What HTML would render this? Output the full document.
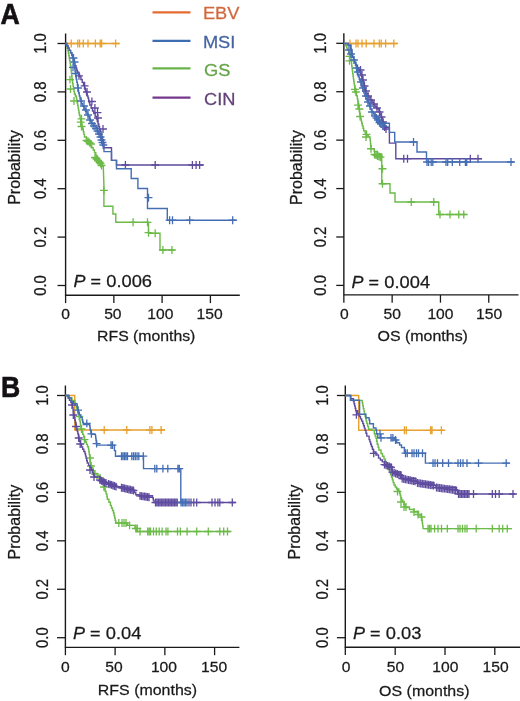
<!DOCTYPE html>
<html><head><meta charset="utf-8"><title>Kaplan-Meier curves</title>
<style>html,body{margin:0;padding:0;background:#fff;}svg{display:block;filter:blur(0.4px);}text{font-family:"Liberation Sans", sans-serif;}</style>
</head><body>
<svg width="520" height="701" viewBox="0 0 520 701" font-family='"Liberation Sans", sans-serif'>
<rect width="520" height="701" fill="#fff"/>
<text transform="translate(0.5 23.6) scale(0.92 1)" font-size="29" font-weight="bold" fill="#141014" stroke="#141014" stroke-width="0.6">A</text>
<text transform="translate(0.9 396.6) scale(0.92 1)" font-size="29" font-weight="bold" fill="#141014" stroke="#141014" stroke-width="0.6">B</text>
<line x1="152.5" y1="12.3" x2="190.5" y2="12.3" stroke="#E46A30" stroke-width="2.2"/>
<text transform="translate(202.9 19.3) scale(1.05 1)" font-size="17.4" fill="#D0683C" stroke="#D0683C" stroke-width="0.25" text-anchor="start" font-style="normal">EBV</text>
<line x1="152.5" y1="40.9" x2="190.5" y2="40.9" stroke="#3E6CB0" stroke-width="2.2"/>
<text transform="translate(202.9 48) scale(1.05 1)" font-size="17.4" fill="#4464A2" stroke="#4464A2" stroke-width="0.25" text-anchor="start" font-style="normal">MSI</text>
<line x1="152.5" y1="68.3" x2="190.5" y2="68.3" stroke="#68B44A" stroke-width="2.2"/>
<text transform="translate(204 75.6) scale(1.05 1)" font-size="17.4" fill="#64A448" stroke="#64A448" stroke-width="0.25" text-anchor="start" font-style="normal">GS</text>
<line x1="152.5" y1="97.6" x2="190.5" y2="97.6" stroke="#74388E" stroke-width="2.2"/>
<text transform="translate(204.1 104.5) scale(1.05 1)" font-size="17.4" fill="#624276" stroke="#624276" stroke-width="0.25" text-anchor="start" font-style="normal">CIN</text>
<path d="M65.6 33.4 V295.3 H239.8" fill="none" stroke="#1a1a1a" stroke-width="1.4"/>
<line x1="57.5" y1="285.5" x2="65.6" y2="285.5" stroke="#1a1a1a" stroke-width="1.3"/>
<text transform="translate(46 285.5) rotate(-90) scale(0.95 1)" font-size="15.7" fill="#1a1a1a" stroke="#1a1a1a" stroke-width="0.25" text-anchor="middle" font-style="normal">0.0</text>
<line x1="57.5" y1="237.1" x2="65.6" y2="237.1" stroke="#1a1a1a" stroke-width="1.3"/>
<text transform="translate(46 237.1) rotate(-90) scale(0.95 1)" font-size="15.7" fill="#1a1a1a" stroke="#1a1a1a" stroke-width="0.25" text-anchor="middle" font-style="normal">0.2</text>
<line x1="57.5" y1="188.7" x2="65.6" y2="188.7" stroke="#1a1a1a" stroke-width="1.3"/>
<text transform="translate(46 188.7) rotate(-90) scale(0.95 1)" font-size="15.7" fill="#1a1a1a" stroke="#1a1a1a" stroke-width="0.25" text-anchor="middle" font-style="normal">0.4</text>
<line x1="57.5" y1="140.3" x2="65.6" y2="140.3" stroke="#1a1a1a" stroke-width="1.3"/>
<text transform="translate(46 140.3) rotate(-90) scale(0.95 1)" font-size="15.7" fill="#1a1a1a" stroke="#1a1a1a" stroke-width="0.25" text-anchor="middle" font-style="normal">0.6</text>
<line x1="57.5" y1="91.9" x2="65.6" y2="91.9" stroke="#1a1a1a" stroke-width="1.3"/>
<text transform="translate(46 91.9) rotate(-90) scale(0.95 1)" font-size="15.7" fill="#1a1a1a" stroke="#1a1a1a" stroke-width="0.25" text-anchor="middle" font-style="normal">0.8</text>
<line x1="57.5" y1="43.5" x2="65.6" y2="43.5" stroke="#1a1a1a" stroke-width="1.3"/>
<text transform="translate(46 43.5) rotate(-90) scale(0.95 1)" font-size="15.7" fill="#1a1a1a" stroke="#1a1a1a" stroke-width="0.25" text-anchor="middle" font-style="normal">1.0</text>
<line x1="65.6" y1="295.3" x2="65.6" y2="303.1" stroke="#1a1a1a" stroke-width="1.3"/>
<text transform="translate(65.6 319.2) scale(1.05 1)" font-size="14.9" fill="#1a1a1a" stroke="#1a1a1a" stroke-width="0.25" text-anchor="middle" font-style="normal">0</text>
<line x1="113.85" y1="295.3" x2="113.85" y2="303.1" stroke="#1a1a1a" stroke-width="1.3"/>
<text transform="translate(112.85 319.2) scale(1.05 1)" font-size="14.9" fill="#1a1a1a" stroke="#1a1a1a" stroke-width="0.25" text-anchor="middle" font-style="normal">50</text>
<line x1="162.1" y1="295.3" x2="162.1" y2="303.1" stroke="#1a1a1a" stroke-width="1.3"/>
<text transform="translate(160.3 319.2) scale(1.05 1)" font-size="14.9" fill="#1a1a1a" stroke="#1a1a1a" stroke-width="0.25" text-anchor="middle" font-style="normal">100</text>
<line x1="210.4" y1="295.3" x2="210.4" y2="303.1" stroke="#1a1a1a" stroke-width="1.3"/>
<text transform="translate(209.6 319.2) scale(1.05 1)" font-size="14.9" fill="#1a1a1a" stroke="#1a1a1a" stroke-width="0.25" text-anchor="middle" font-style="normal">150</text>
<text transform="translate(97.1 341.1) scale(1.05 1)" font-size="15.0575" fill="#1a1a1a" stroke="#1a1a1a" stroke-width="0.25" text-anchor="start" font-style="normal">RFS (months)</text>
<text transform="translate(19.9 167.5) rotate(-90)" font-size="16" fill="#1a1a1a" stroke="#1a1a1a" stroke-width="0.25" text-anchor="middle" font-style="normal">Probability</text>
<text transform="translate(73.5 287) scale(1.04 1)" font-size="17.3" fill="#1a1a1a" stroke="#1a1a1a" stroke-width="0.25" text-anchor="start" font-style="italic">P</text>
<text transform="translate(90.5 287) scale(1.04 1)" font-size="17.3" fill="#1a1a1a" stroke="#1a1a1a" stroke-width="0.25" text-anchor="start" font-style="normal">=</text>
<text transform="translate(106.2 287) scale(1.06 1)" font-size="17.3" fill="#1a1a1a" stroke="#1a1a1a" stroke-width="0.25" text-anchor="start" font-style="normal">0.006</text>
<path d="M343.85 33.2 V294.9 H518.5" fill="none" stroke="#1a1a1a" stroke-width="1.4"/>
<line x1="336.25" y1="285.4" x2="343.85" y2="285.4" stroke="#1a1a1a" stroke-width="1.3"/>
<text transform="translate(326.4 285.4) rotate(-90) scale(0.95 1)" font-size="15.7" fill="#1a1a1a" stroke="#1a1a1a" stroke-width="0.25" text-anchor="middle" font-style="normal">0.0</text>
<line x1="336.25" y1="236.98" x2="343.85" y2="236.98" stroke="#1a1a1a" stroke-width="1.3"/>
<text transform="translate(326.4 236.98) rotate(-90) scale(0.95 1)" font-size="15.7" fill="#1a1a1a" stroke="#1a1a1a" stroke-width="0.25" text-anchor="middle" font-style="normal">0.2</text>
<line x1="336.25" y1="188.56" x2="343.85" y2="188.56" stroke="#1a1a1a" stroke-width="1.3"/>
<text transform="translate(326.4 188.56) rotate(-90) scale(0.95 1)" font-size="15.7" fill="#1a1a1a" stroke="#1a1a1a" stroke-width="0.25" text-anchor="middle" font-style="normal">0.4</text>
<line x1="336.25" y1="140.14" x2="343.85" y2="140.14" stroke="#1a1a1a" stroke-width="1.3"/>
<text transform="translate(326.4 140.14) rotate(-90) scale(0.95 1)" font-size="15.7" fill="#1a1a1a" stroke="#1a1a1a" stroke-width="0.25" text-anchor="middle" font-style="normal">0.6</text>
<line x1="336.25" y1="91.72" x2="343.85" y2="91.72" stroke="#1a1a1a" stroke-width="1.3"/>
<text transform="translate(326.4 91.72) rotate(-90) scale(0.95 1)" font-size="15.7" fill="#1a1a1a" stroke="#1a1a1a" stroke-width="0.25" text-anchor="middle" font-style="normal">0.8</text>
<line x1="336.25" y1="43.3" x2="343.85" y2="43.3" stroke="#1a1a1a" stroke-width="1.3"/>
<text transform="translate(326.4 43.3) rotate(-90) scale(0.95 1)" font-size="15.7" fill="#1a1a1a" stroke="#1a1a1a" stroke-width="0.25" text-anchor="middle" font-style="normal">1.0</text>
<line x1="343.85" y1="294.9" x2="343.85" y2="302.7" stroke="#1a1a1a" stroke-width="1.3"/>
<text transform="translate(344.35 319.2) scale(1.05 1)" font-size="14.9" fill="#1a1a1a" stroke="#1a1a1a" stroke-width="0.25" text-anchor="middle" font-style="normal">0</text>
<line x1="392.15" y1="294.9" x2="392.15" y2="302.7" stroke="#1a1a1a" stroke-width="1.3"/>
<text transform="translate(392.15 319.2) scale(1.05 1)" font-size="14.9" fill="#1a1a1a" stroke="#1a1a1a" stroke-width="0.25" text-anchor="middle" font-style="normal">50</text>
<line x1="440.45" y1="294.9" x2="440.45" y2="302.7" stroke="#1a1a1a" stroke-width="1.3"/>
<text transform="translate(440.45 319.2) scale(1.05 1)" font-size="14.9" fill="#1a1a1a" stroke="#1a1a1a" stroke-width="0.25" text-anchor="middle" font-style="normal">100</text>
<line x1="488.75" y1="294.9" x2="488.75" y2="302.7" stroke="#1a1a1a" stroke-width="1.3"/>
<text transform="translate(489.05 319.2) scale(1.05 1)" font-size="14.9" fill="#1a1a1a" stroke="#1a1a1a" stroke-width="0.25" text-anchor="middle" font-style="normal">150</text>
<text transform="translate(377.5 341.1) scale(1.05 1)" font-size="15.2" fill="#1a1a1a" stroke="#1a1a1a" stroke-width="0.25" text-anchor="start" font-style="normal">OS (months)</text>
<text transform="translate(302.2 167.6) rotate(-90)" font-size="16" fill="#1a1a1a" stroke="#1a1a1a" stroke-width="0.25" text-anchor="middle" font-style="normal">Probability</text>
<text transform="translate(351.6 287.5) scale(1.04 1)" font-size="17.3" fill="#1a1a1a" stroke="#1a1a1a" stroke-width="0.25" text-anchor="start" font-style="italic">P</text>
<text transform="translate(368.6 287.5) scale(1.04 1)" font-size="17.3" fill="#1a1a1a" stroke="#1a1a1a" stroke-width="0.25" text-anchor="start" font-style="normal">=</text>
<text transform="translate(384.3 287.5) scale(1.06 1)" font-size="17.3" fill="#1a1a1a" stroke="#1a1a1a" stroke-width="0.25" text-anchor="start" font-style="normal">0.004</text>
<path d="M65.4 385.5 V647.4 H239.4" fill="none" stroke="#1a1a1a" stroke-width="1.4"/>
<line x1="57" y1="637.7" x2="65.4" y2="637.7" stroke="#1a1a1a" stroke-width="1.3"/>
<text transform="translate(48 637.7) rotate(-90) scale(0.95 1)" font-size="15.7" fill="#1a1a1a" stroke="#1a1a1a" stroke-width="0.25" text-anchor="middle" font-style="normal">0.0</text>
<line x1="57" y1="589.26" x2="65.4" y2="589.26" stroke="#1a1a1a" stroke-width="1.3"/>
<text transform="translate(48 589.26) rotate(-90) scale(0.95 1)" font-size="15.7" fill="#1a1a1a" stroke="#1a1a1a" stroke-width="0.25" text-anchor="middle" font-style="normal">0.2</text>
<line x1="57" y1="540.82" x2="65.4" y2="540.82" stroke="#1a1a1a" stroke-width="1.3"/>
<text transform="translate(48 540.82) rotate(-90) scale(0.95 1)" font-size="15.7" fill="#1a1a1a" stroke="#1a1a1a" stroke-width="0.25" text-anchor="middle" font-style="normal">0.4</text>
<line x1="57" y1="492.38" x2="65.4" y2="492.38" stroke="#1a1a1a" stroke-width="1.3"/>
<text transform="translate(48 492.38) rotate(-90) scale(0.95 1)" font-size="15.7" fill="#1a1a1a" stroke="#1a1a1a" stroke-width="0.25" text-anchor="middle" font-style="normal">0.6</text>
<line x1="57" y1="443.94" x2="65.4" y2="443.94" stroke="#1a1a1a" stroke-width="1.3"/>
<text transform="translate(48 443.94) rotate(-90) scale(0.95 1)" font-size="15.7" fill="#1a1a1a" stroke="#1a1a1a" stroke-width="0.25" text-anchor="middle" font-style="normal">0.8</text>
<line x1="57" y1="395.5" x2="65.4" y2="395.5" stroke="#1a1a1a" stroke-width="1.3"/>
<text transform="translate(48 395.5) rotate(-90) scale(0.95 1)" font-size="15.7" fill="#1a1a1a" stroke="#1a1a1a" stroke-width="0.25" text-anchor="middle" font-style="normal">1.0</text>
<line x1="65.4" y1="647.4" x2="65.4" y2="655.2" stroke="#1a1a1a" stroke-width="1.3"/>
<text transform="translate(65.4 671.8) scale(1.05 1)" font-size="14.9" fill="#1a1a1a" stroke="#1a1a1a" stroke-width="0.25" text-anchor="middle" font-style="normal">0</text>
<line x1="115.1" y1="647.4" x2="115.1" y2="655.2" stroke="#1a1a1a" stroke-width="1.3"/>
<text transform="translate(113.9 671.8) scale(1.05 1)" font-size="14.9" fill="#1a1a1a" stroke="#1a1a1a" stroke-width="0.25" text-anchor="middle" font-style="normal">50</text>
<line x1="164.85" y1="647.4" x2="164.85" y2="655.2" stroke="#1a1a1a" stroke-width="1.3"/>
<text transform="translate(163.95 671.8) scale(1.05 1)" font-size="14.9" fill="#1a1a1a" stroke="#1a1a1a" stroke-width="0.25" text-anchor="middle" font-style="normal">100</text>
<line x1="214.6" y1="647.4" x2="214.6" y2="655.2" stroke="#1a1a1a" stroke-width="1.3"/>
<text transform="translate(214.1 671.8) scale(1.05 1)" font-size="14.9" fill="#1a1a1a" stroke="#1a1a1a" stroke-width="0.25" text-anchor="middle" font-style="normal">150</text>
<text transform="translate(97.8 695.4) scale(1.05 1)" font-size="15.2" fill="#1a1a1a" stroke="#1a1a1a" stroke-width="0.25" text-anchor="start" font-style="normal">RFS (months)</text>
<text transform="translate(20.2 522.2) rotate(-90)" font-size="16" fill="#1a1a1a" stroke="#1a1a1a" stroke-width="0.25" text-anchor="middle" font-style="normal">Probability</text>
<text transform="translate(73 639) scale(1.04 1)" font-size="17.3" fill="#1a1a1a" stroke="#1a1a1a" stroke-width="0.25" text-anchor="start" font-style="italic">P</text>
<text transform="translate(90 639) scale(1.04 1)" font-size="17.3" fill="#1a1a1a" stroke="#1a1a1a" stroke-width="0.25" text-anchor="start" font-style="normal">=</text>
<text transform="translate(105.7 639) scale(1.06 1)" font-size="17.3" fill="#1a1a1a" stroke="#1a1a1a" stroke-width="0.25" text-anchor="start" font-style="normal">0.04</text>
<path d="M345.3 385.5 V647.3 H520" fill="none" stroke="#1a1a1a" stroke-width="1.4"/>
<line x1="336.9" y1="637.7" x2="345.3" y2="637.7" stroke="#1a1a1a" stroke-width="1.3"/>
<text transform="translate(327.8 637.7) rotate(-90) scale(0.95 1)" font-size="15.7" fill="#1a1a1a" stroke="#1a1a1a" stroke-width="0.25" text-anchor="middle" font-style="normal">0.0</text>
<line x1="336.9" y1="589.26" x2="345.3" y2="589.26" stroke="#1a1a1a" stroke-width="1.3"/>
<text transform="translate(327.8 589.26) rotate(-90) scale(0.95 1)" font-size="15.7" fill="#1a1a1a" stroke="#1a1a1a" stroke-width="0.25" text-anchor="middle" font-style="normal">0.2</text>
<line x1="336.9" y1="540.82" x2="345.3" y2="540.82" stroke="#1a1a1a" stroke-width="1.3"/>
<text transform="translate(327.8 540.82) rotate(-90) scale(0.95 1)" font-size="15.7" fill="#1a1a1a" stroke="#1a1a1a" stroke-width="0.25" text-anchor="middle" font-style="normal">0.4</text>
<line x1="336.9" y1="492.38" x2="345.3" y2="492.38" stroke="#1a1a1a" stroke-width="1.3"/>
<text transform="translate(327.8 492.38) rotate(-90) scale(0.95 1)" font-size="15.7" fill="#1a1a1a" stroke="#1a1a1a" stroke-width="0.25" text-anchor="middle" font-style="normal">0.6</text>
<line x1="336.9" y1="443.94" x2="345.3" y2="443.94" stroke="#1a1a1a" stroke-width="1.3"/>
<text transform="translate(327.8 443.94) rotate(-90) scale(0.95 1)" font-size="15.7" fill="#1a1a1a" stroke="#1a1a1a" stroke-width="0.25" text-anchor="middle" font-style="normal">0.8</text>
<line x1="336.9" y1="395.5" x2="345.3" y2="395.5" stroke="#1a1a1a" stroke-width="1.3"/>
<text transform="translate(327.8 395.5) rotate(-90) scale(0.95 1)" font-size="15.7" fill="#1a1a1a" stroke="#1a1a1a" stroke-width="0.25" text-anchor="middle" font-style="normal">1.0</text>
<line x1="345.3" y1="647.3" x2="345.3" y2="655.1" stroke="#1a1a1a" stroke-width="1.3"/>
<text transform="translate(346.1 671.8) scale(1.05 1)" font-size="14.9" fill="#1a1a1a" stroke="#1a1a1a" stroke-width="0.25" text-anchor="middle" font-style="normal">0</text>
<line x1="395.2" y1="647.3" x2="395.2" y2="655.1" stroke="#1a1a1a" stroke-width="1.3"/>
<text transform="translate(395.5 671.8) scale(1.05 1)" font-size="14.9" fill="#1a1a1a" stroke="#1a1a1a" stroke-width="0.25" text-anchor="middle" font-style="normal">50</text>
<line x1="445" y1="647.3" x2="445" y2="655.1" stroke="#1a1a1a" stroke-width="1.3"/>
<text transform="translate(445.3 671.8) scale(1.05 1)" font-size="14.9" fill="#1a1a1a" stroke="#1a1a1a" stroke-width="0.25" text-anchor="middle" font-style="normal">100</text>
<line x1="494.8" y1="647.3" x2="494.8" y2="655.1" stroke="#1a1a1a" stroke-width="1.3"/>
<text transform="translate(495.6 671.8) scale(1.05 1)" font-size="14.9" fill="#1a1a1a" stroke="#1a1a1a" stroke-width="0.25" text-anchor="middle" font-style="normal">150</text>
<text transform="translate(379.1 695.6) scale(1.05 1)" font-size="15.2" fill="#1a1a1a" stroke="#1a1a1a" stroke-width="0.25" text-anchor="start" font-style="normal">OS (months)</text>
<text transform="translate(300 522.2) rotate(-90)" font-size="16" fill="#1a1a1a" stroke="#1a1a1a" stroke-width="0.25" text-anchor="middle" font-style="normal">Probability</text>
<text transform="translate(353 638.8) scale(1.04 1)" font-size="17.3" fill="#1a1a1a" stroke="#1a1a1a" stroke-width="0.25" text-anchor="start" font-style="italic">P</text>
<text transform="translate(370 638.8) scale(1.04 1)" font-size="17.3" fill="#1a1a1a" stroke="#1a1a1a" stroke-width="0.25" text-anchor="start" font-style="normal">=</text>
<text transform="translate(385.7 638.8) scale(1.06 1)" font-size="17.3" fill="#1a1a1a" stroke="#1a1a1a" stroke-width="0.25" text-anchor="start" font-style="normal">0.03</text>
<path d="M65.6 43.5 L119.6 43.5" fill="none" stroke="#E8A02E" stroke-width="1.4" stroke-linejoin="miter"/>
<path d="M67.25 43.5h7.9M71.2 39.55v7.9M73.85 43.5h7.9M77.8 39.55v7.9M75.65 43.5h7.9M79.6 39.55v7.9M79.35 43.5h7.9M83.3 39.55v7.9M84.05 43.5h7.9M88 39.55v7.9M91.45 43.5h7.9M95.4 39.55v7.9M96.25 43.5h7.9M100.2 39.55v7.9M97.65 43.5h7.9M101.6 39.55v7.9M111.65 43.5h7.9M115.6 39.55v7.9" fill="none" stroke="#E8A02E" stroke-width="1.3"/>
<path d="M65.6 43.5 L66.37 43.5 L66.37 45.87 L67.13 45.87 L67.13 48.23 L67.9 48.23 L67.9 50.6 L68.33 50.6 L68.33 53.09 L68.76 53.09 L68.76 55.57 L69.19 55.57 L69.19 58.06 L69.61 58.06 L69.61 60.54 L70.04 60.54 L70.04 63.03 L70.47 63.03 L70.47 65.51 L70.9 65.51 L70.9 68 L71.16 68 L71.16 70.6 L71.42 70.6 L71.42 73.2 L71.68 73.2 L71.68 75.8 L71.94 75.8 L71.94 78.4 L72.2 78.4 L72.2 81 L72.64 81 L72.64 83.6 L73.08 83.6 L73.08 86.2 L73.52 86.2 L73.52 88.8 L73.96 88.8 L73.96 91.4 L74.4 91.4 L74.4 94 L75.35 94 L75.35 96 L76.3 96 L76.3 98 L76.74 98 L76.74 100.47 L77.19 100.47 L77.19 102.94 L77.63 102.94 L77.63 105.41 L78.07 105.41 L78.07 107.89 L78.51 107.89 L78.51 110.36 L78.96 110.36 L78.96 112.83 L79.4 112.83 L79.4 115.3 L80.1 115.3 L80.1 118.2 L80.8 118.2 L80.8 121.1 L81.5 121.1 L81.5 124 L82.1 124 L82.1 126.6 L82.7 126.6 L82.7 129.2 L83.3 129.2 L83.3 131.8 L83.9 131.8 L83.9 134.4 L84.5 134.4 L84.5 137 L86.4 137 L86.4 139.87 L88.3 139.87 L88.3 142.73 L90.2 142.73 L90.2 145.6 L91.7 145.6 L91.7 147.8 L93.2 147.8 L93.2 150 L94.5 150 L94.5 152.67 L95.8 152.67 L95.8 155.33 L97.1 155.33 L97.1 158 L99.05 158 L99.05 161 L101 161 L101 164 L102.15 164 L102.15 166.4 L103.3 166.4 L103.3 168.8 L103.39 168.8 L103.39 171.26 L103.47 171.26 L103.47 173.71 L103.56 173.71 L103.56 176.17 L103.64 176.17 L103.64 178.63 L103.73 178.63 L103.73 181.09 L103.81 181.09 L103.81 183.54 L103.9 183.54 L103.9 186 L103.9 206.3 L112.9 206.3 L112.9 214 L115.8 214 L115.8 222.3 L148.5 222.3 L148.5 233.3 L160 233.3 L160 250 L174.6 250" fill="none" stroke="#6CBA48" stroke-width="1.4" stroke-linejoin="miter"/>
<path d="M66.05 79.6h7.9M70 75.65v7.9M66.55 89h7.9M70.5 85.05v7.9M70.05 101h7.9M74 97.05v7.9M77.55 118.8h7.9M81.5 114.85v7.9M76.75 122.2h7.9M80.7 118.25v7.9M77.55 126.5h7.9M81.5 122.55v7.9M82.55 140.5h7.9M86.5 136.55v7.9M84.05 141.3h7.9M88 137.35v7.9M85.55 142.5h7.9M89.5 138.55v7.9M87.05 144h7.9M91 140.05v7.9M91.05 157.5h7.9M95 153.55v7.9M92.55 159h7.9M96.5 155.05v7.9M94.05 160.5h7.9M98 156.55v7.9M95.55 162h7.9M99.5 158.05v7.9M96.55 163.5h7.9M100.5 159.55v7.9M97.55 165.5h7.9M101.5 161.55v7.9M99.95 190.4h7.9M103.9 186.45v7.9M129.15 222.3h7.9M133.1 218.35v7.9M143.55 222.3h7.9M147.5 218.35v7.9M144.55 232.7h7.9M148.5 228.75v7.9M151.25 233.3h7.9M155.2 229.35v7.9M158.95 250h7.9M162.9 246.05v7.9M167.95 250h7.9M171.9 246.05v7.9" fill="none" stroke="#6CBA48" stroke-width="1.3"/>
<path d="M65.6 43.5 L66.84 43.5 L66.84 45.8 L68.08 45.8 L68.08 48.1 L69.32 48.1 L69.32 50.4 L70.56 50.4 L70.56 52.7 L71.8 52.7 L71.8 55 L72.53 55 L72.53 57.87 L73.27 57.87 L73.27 60.73 L74 60.73 L74 63.6 L75 63.6 L75 65.8 L76 65.8 L76 68 L76.7 68 L76.7 70.15 L77.4 70.15 L77.4 72.3 L78.5 72.3 L78.5 74.45 L79.6 74.45 L79.6 76.6 L80.9 76.6 L80.9 79.5 L82.2 79.5 L82.2 82.4 L83.5 82.4 L83.5 85.3 L84.5 85.3 L84.5 88.2 L85.5 88.2 L85.5 91.1 L86.5 91.1 L86.5 94 L87.25 94 L87.25 96 L88 96 L88 98 L88.6 98 L88.6 100.33 L89.2 100.33 L89.2 102.67 L89.8 102.67 L89.8 105 L91.15 105 L91.15 108 L92.5 108 L92.5 111 L93.83 111 L93.83 113.67 L95.17 113.67 L95.17 116.33 L96.5 116.33 L96.5 119 L97.27 119 L97.27 121.5 L98.03 121.5 L98.03 124 L98.8 124 L98.8 126.5 L99.55 126.5 L99.55 129.12 L100.3 129.12 L100.3 131.75 L101.05 131.75 L101.05 134.38 L101.8 134.38 L101.8 137 L102.53 137 L102.53 139.67 L103.27 139.67 L103.27 142.33 L104 142.33 L104 145 L104 147.7 L111.5 147.7 L111.5 160.4 L116.5 160.4 L116.5 165 L203.6 165" fill="none" stroke="#5E4A9E" stroke-width="1.4" stroke-linejoin="miter"/>
<path d="M75.05 75.8h7.9M79 71.85v7.9M80.65 85.8h7.9M84.6 81.85v7.9M83.05 92h7.9M87 88.05v7.9M87.95 101.5h7.9M91.9 97.55v7.9M90.95 108h7.9M94.9 104.05v7.9M93.55 112.7h7.9M97.5 108.75v7.9M94.05 118h7.9M98 114.05v7.9M99.05 129h7.9M103 125.05v7.9M121.45 165h7.9M125.4 161.05v7.9M151.25 165h7.9M155.2 161.05v7.9M188.45 165h7.9M192.4 161.05v7.9M192.15 165h7.9M196.1 161.05v7.9M195.65 165h7.9M199.6 161.05v7.9" fill="none" stroke="#5E4A9E" stroke-width="1.3"/>
<path d="M65.6 43.5 L66.84 43.5 L66.84 45.8 L68.08 45.8 L68.08 48.1 L69.32 48.1 L69.32 50.4 L70.56 50.4 L70.56 52.7 L71.8 52.7 L71.8 55 L72.53 55 L72.53 57.87 L73.27 57.87 L73.27 60.73 L74 60.73 L74 63.6 L74.34 63.6 L74.34 66.2 L74.68 66.2 L74.68 68.8 L75.02 68.8 L75.02 71.4 L75.36 71.4 L75.36 74 L75.7 74 L75.7 76.6 L76.27 76.6 L76.27 79.5 L76.83 79.5 L76.83 82.4 L77.4 82.4 L77.4 85.3 L77.8 85.3 L77.8 87.87 L78.2 87.87 L78.2 90.43 L78.6 90.43 L78.6 93 L79.3 93 L79.3 96 L80 96 L80 99 L80.83 99 L80.83 101.33 L81.67 101.33 L81.67 103.67 L82.5 103.67 L82.5 106 L84 106 L84 108.67 L85.5 108.67 L85.5 111.33 L87 111.33 L87 114 L88.12 114 L88.12 116.38 L89.25 116.38 L89.25 118.75 L90.38 118.75 L90.38 121.12 L91.5 121.12 L91.5 123.5 L93.85 123.5 L93.85 125.9 L96.2 125.9 L96.2 128.3 L97.63 128.3 L97.63 131.2 L99.07 131.2 L99.07 134.1 L100.5 134.1 L100.5 137 L101.37 137 L101.37 139.87 L102.23 139.87 L102.23 142.73 L103.1 142.73 L103.1 145.6 L103.55 145.6 L103.55 148.6 L104 148.6 L104 151.6 L111.5 151.6 L111.5 160.4 L116.5 160.4 L116.5 168.8 L131.2 168.8 L131.2 178.5 L137.9 178.5 L137.9 188.5 L147.5 188.5 L147.5 208.5 L167.3 208.5 L167.3 220.2 L236.7 220.2" fill="none" stroke="#446EB4" stroke-width="1.4" stroke-linejoin="miter"/>
<path d="M69.55 58h7.9M73.5 54.05v7.9M70.55 62h7.9M74.5 58.05v7.9M69.05 67.3h7.9M73 63.35v7.9M72.05 73.5h7.9M76 69.55v7.9M74.05 88h7.9M78 84.05v7.9M77.05 101h7.9M81 97.05v7.9M80.05 106h7.9M84 102.05v7.9M82.05 110h7.9M86 106.05v7.9M84.05 115h7.9M88 111.05v7.9M86.05 120h7.9M90 116.05v7.9M88.05 123.5h7.9M92 119.55v7.9M90.05 126h7.9M94 122.05v7.9M92.05 128.5h7.9M96 124.55v7.9M93.55 131h7.9M97.5 127.05v7.9M95.05 134h7.9M99 130.05v7.9M96.55 137h7.9M100.5 133.05v7.9M97.55 140h7.9M101.5 136.05v7.9M98.55 142.5h7.9M102.5 138.55v7.9M99.35 145h7.9M103.3 141.05v7.9M144.55 197.7h7.9M148.5 193.75v7.9M165.65 220.2h7.9M169.6 216.25v7.9M168.55 220.2h7.9M172.5 216.25v7.9M185.75 220.2h7.9M189.7 216.25v7.9M228.75 220.2h7.9M232.7 216.25v7.9" fill="none" stroke="#446EB4" stroke-width="1.3"/>
<path d="M343.85 43.5 L397.7 43.5" fill="none" stroke="#E8A02E" stroke-width="1.4" stroke-linejoin="miter"/>
<path d="M346.05 43.5h7.9M350 39.55v7.9M352.05 43.5h7.9M356 39.55v7.9M354.05 43.5h7.9M358 39.55v7.9M358.05 43.5h7.9M362 39.55v7.9M362.25 43.5h7.9M366.2 39.55v7.9M370.05 43.5h7.9M374 39.55v7.9M375.35 43.5h7.9M379.3 39.55v7.9M377.25 43.5h7.9M381.2 39.55v7.9M381.65 43.5h7.9M385.6 39.55v7.9M389.85 43.5h7.9M393.8 39.55v7.9" fill="none" stroke="#E8A02E" stroke-width="1.3"/>
<path d="M343.85 43.5 L344.7 43.5 L345.72 43.5 L345.72 45.8 L346.73 45.8 L346.73 48.1 L347.75 48.1 L347.75 50.4 L348.77 50.4 L348.77 52.7 L349.78 52.7 L349.78 55 L350.8 55 L350.8 57.3 L351.1 57.3 L351.1 60.2 L351.4 60.2 L351.4 63.1 L351.7 63.1 L351.7 66 L352.04 66 L352.04 68.58 L352.38 68.58 L352.38 71.16 L352.72 71.16 L352.72 73.74 L353.06 73.74 L353.06 76.32 L353.4 76.32 L353.4 78.9 L353.74 78.9 L353.74 81.16 L354.08 81.16 L354.08 83.42 L354.42 83.42 L354.42 85.68 L354.76 85.68 L354.76 87.94 L355.1 87.94 L355.1 90.2 L355.83 90.2 L355.83 93.03 L356.57 93.03 L356.57 95.87 L357.3 95.87 L357.3 98.7 L357.77 98.7 L357.77 101.07 L358.23 101.07 L358.23 103.43 L358.7 103.43 L358.7 105.8 L359.05 105.8 L359.05 108.47 L359.4 108.47 L359.4 111.15 L359.75 111.15 L359.75 113.83 L360.1 113.83 L360.1 116.5 L360.65 116.5 L360.65 118.83 L361.2 118.83 L361.2 121.15 L361.75 121.15 L361.75 123.47 L362.3 123.47 L362.3 125.8 L363 125.8 L363 128.3 L363.7 128.3 L363.7 130.8 L365.1 130.8 L365.1 132.9 L366.5 132.9 L366.5 135 L368.25 135 L368.25 136.88 L370 136.88 L370 138.75 L370.25 138.75 L370.25 141.25 L370.5 141.25 L370.5 143.75 L370.75 143.75 L370.75 146.25 L371 146.25 L371 148.75 L374.25 148.75 L374.25 151.38 L377.5 151.38 L377.5 154 L381.75 154 L381.75 157.5 L381.75 183.75 L390 183.75 L390 193 L395 193 L395 202 L438.75 202 L438.75 214.5 L466.25 214.5" fill="none" stroke="#6CBA48" stroke-width="1.4" stroke-linejoin="miter"/>
<path d="M345.55 56.4h7.9M349.5 52.45v7.9M345.55 60.8h7.9M349.5 56.85v7.9M350.95 89.3h7.9M354.9 85.35v7.9M351.95 92h7.9M355.9 88.05v7.9M354.05 105.1h7.9M358 101.15v7.9M355.45 109h7.9M359.4 105.05v7.9M356.15 116.5h7.9M360.1 112.55v7.9M362.55 134.3h7.9M366.5 130.35v7.9M362.05 137h7.9M366 133.05v7.9M367.05 148.75h7.9M371 144.8v7.9M370.55 154.5h7.9M374.5 150.55v7.9M372.05 155h7.9M376 151.05v7.9M373.55 156h7.9M377.5 152.05v7.9M375.05 156.5h7.9M379 152.55v7.9M376.55 157.2h7.9M380.5 153.25v7.9M378.55 168.75h7.9M382.5 164.8v7.9M378.55 183.75h7.9M382.5 179.8v7.9M407.3 202h7.9M411.25 198.05v7.9M429.8 202h7.9M433.75 198.05v7.9M436.05 214.5h7.9M440 210.55v7.9M446.05 214.5h7.9M450 210.55v7.9M454.8 214.5h7.9M458.75 210.55v7.9M459.8 214.5h7.9M463.75 210.55v7.9" fill="none" stroke="#6CBA48" stroke-width="1.3"/>
<path d="M343.85 43.5 L348.2 43.5 L348.2 45.2 L350.8 45.2 L350.8 48.7 L351.37 48.7 L351.37 51.57 L351.93 51.57 L351.93 54.43 L352.5 54.43 L352.5 57.3 L353.5 57.3 L353.5 59.9 L354.5 59.9 L354.5 62.5 L355.5 62.5 L355.5 65.1 L357.5 65.1 L357.5 67.7 L358.75 67.7 L358.75 70.3 L360 70.3 L360 72.9 L361 72.9 L361 75.9 L362 75.9 L362 78.9 L362.67 78.9 L362.67 81.2 L363.33 81.2 L363.33 83.5 L364 83.5 L364 85.8 L364.67 85.8 L364.67 88.4 L365.33 88.4 L365.33 91 L366 91 L366 93.6 L368 93.6 L368 97 L370 97 L370 99.65 L372 99.65 L372 102.3 L373.5 102.3 L373.5 104.43 L375 104.43 L375 106.57 L376.5 106.57 L376.5 108.7 L379 108.7 L379 111.5 L380 111.5 L380 114.33 L381 114.33 L381 117.17 L382 117.17 L382 120 L383.03 120 L383.03 122.47 L384.07 122.47 L384.07 124.93 L385.1 124.93 L385.1 127.4 L389.4 127.4 L389.4 143.1 L395.8 143.1 L395.8 158.7 L482 158.7" fill="none" stroke="#5E4A9E" stroke-width="1.4" stroke-linejoin="miter"/>
<path d="M356.55 70h7.9M360.5 66.05v7.9M358.05 75h7.9M362 71.05v7.9M359.05 80h7.9M363 76.05v7.9M360.55 86h7.9M364.5 82.05v7.9M362.05 91h7.9M366 87.05v7.9M364.05 96h7.9M368 92.05v7.9M367.05 100h7.9M371 96.05v7.9M370.05 104h7.9M374 100.05v7.9M373.05 108h7.9M377 104.05v7.9M375.55 112h7.9M379.5 108.05v7.9M377.55 117h7.9M381.5 113.05v7.9M379.05 122h7.9M383 118.05v7.9M380.55 127h7.9M384.5 123.05v7.9M382.05 129h7.9M386 125.05v7.9M399.8 158.7h7.9M403.75 154.75v7.9M403.55 158.7h7.9M407.5 154.75v7.9M466.35 158.7h7.9M470.3 154.75v7.9M474.05 158.7h7.9M478 154.75v7.9" fill="none" stroke="#5E4A9E" stroke-width="1.3"/>
<path d="M343.85 43.5 L348.2 43.5 L348.2 45.2 L350.8 45.2 L350.8 48.7 L351.37 48.7 L351.37 51.57 L351.93 51.57 L351.93 54.43 L352.5 54.43 L352.5 57.3 L353.67 57.3 L353.67 59.9 L354.83 59.9 L354.83 62.5 L356 62.5 L356 65.1 L356.32 65.1 L356.32 67.47 L356.65 67.47 L356.65 69.85 L356.98 69.85 L356.98 72.22 L357.3 72.22 L357.3 74.6 L358.3 74.6 L358.3 76.9 L359.3 76.9 L359.3 79.2 L360.3 79.2 L360.3 81.5 L361.17 81.5 L361.17 84.4 L362.03 84.4 L362.03 87.3 L362.9 87.3 L362.9 90.2 L363.87 90.2 L363.87 93.03 L364.83 93.03 L364.83 95.87 L365.8 95.87 L365.8 98.7 L367 98.7 L367 100.83 L368.2 100.83 L368.2 102.97 L369.4 102.97 L369.4 105.1 L370.1 105.1 L370.1 107.23 L370.8 107.23 L370.8 109.37 L371.5 109.37 L371.5 111.5 L373.3 111.5 L373.3 114 L375.1 114 L375.1 116.5 L376.55 116.5 L376.55 119 L378 119 L378 121.5 L380.1 121.5 L380.1 123.2 L389.4 123.2 L389.4 132.4 L394.7 132.4 L394.7 142 L417 142 L417 152 L426.5 152 L426.5 162 L513.7 162" fill="none" stroke="#446EB4" stroke-width="1.4" stroke-linejoin="miter"/>
<path d="M345.05 50h7.9M349 46.05v7.9M347.05 54h7.9M351 50.05v7.9M350.05 60h7.9M354 56.05v7.9M352.55 68h7.9M356.5 64.05v7.9M354.05 72h7.9M358 68.05v7.9M357.05 82h7.9M361 78.05v7.9M359.05 88h7.9M363 84.05v7.9M362.05 96h7.9M366 92.05v7.9M364.05 102h7.9M368 98.05v7.9M366.05 106h7.9M370 102.05v7.9M368.05 112h7.9M372 108.05v7.9M371.05 116h7.9M375 112.05v7.9M372.55 118h7.9M376.5 114.05v7.9M374.05 120h7.9M378 116.05v7.9M375.55 122.5h7.9M379.5 118.55v7.9M377.05 124h7.9M381 120.05v7.9M379.05 126h7.9M383 122.05v7.9M409.55 142h7.9M413.5 138.05v7.9M423.05 162h7.9M427 158.05v7.9M424.65 162h7.9M428.6 158.05v7.9M427.25 162h7.9M431.2 158.05v7.9M428.85 162h7.9M432.8 158.05v7.9M442.05 162h7.9M446 158.05v7.9M443.75 162h7.9M447.7 158.05v7.9M448.35 162h7.9M452.3 158.05v7.9M455.75 162h7.9M459.7 158.05v7.9M461.45 162h7.9M465.4 158.05v7.9M462.75 162h7.9M466.7 158.05v7.9M507.05 162h7.9M511 158.05v7.9" fill="none" stroke="#446EB4" stroke-width="1.3"/>
<path d="M65.4 395.5 L74.7 395.5 L74.7 430 L164.9 430" fill="none" stroke="#E8A02E" stroke-width="1.4" stroke-linejoin="miter"/>
<path d="M100.25 430h7.9M104.2 426.05v7.9M122.85 430h7.9M126.8 426.05v7.9M145.95 430h7.9M149.9 426.05v7.9M147.95 430h7.9M151.9 426.05v7.9M157.15 430h7.9M161.1 426.05v7.9" fill="none" stroke="#E8A02E" stroke-width="1.3"/>
<path d="M65.4 395.5 L69 395.5 L69 398 L72 398 L72 400.5 L75 400.5 L75 403 L75.67 403 L75.67 405.33 L76.33 405.33 L76.33 407.67 L77 407.67 L77 410 L77.77 410 L77.77 412.17 L78.53 412.17 L78.53 414.33 L79.3 414.33 L79.3 416.5 L79.64 416.5 L79.64 419.04 L79.98 419.04 L79.98 421.58 L80.32 421.58 L80.32 424.12 L80.66 424.12 L80.66 426.66 L81 426.66 L81 429.2 L81.88 429.2 L81.88 431.8 L82.75 431.8 L82.75 434.4 L83.62 434.4 L83.62 437 L84.5 437 L84.5 439.6 L85.5 439.6 L85.5 442 L86.5 442 L86.5 444.4 L87.5 444.4 L87.5 446.8 L88.5 446.8 L88.5 449.2 L88.88 449.2 L88.88 451.9 L89.27 451.9 L89.27 454.6 L89.65 454.6 L89.65 457.3 L90.03 457.3 L90.03 460 L90.42 460 L90.42 462.7 L90.8 462.7 L90.8 465.4 L91.93 465.4 L91.93 468.07 L93.07 468.07 L93.07 470.73 L94.2 470.73 L94.2 473.4 L97.1 473.4 L97.1 475.7 L100 475.7 L100 478 L101.13 478 L101.13 480.7 L102.27 480.7 L102.27 483.4 L103.4 483.4 L103.4 486.1 L104.28 486.1 L104.28 488.7 L105.15 488.7 L105.15 491.3 L106.03 491.3 L106.03 493.9 L106.9 493.9 L106.9 496.5 L107.3 496.5 L107.3 499.2 L108.85 499.2 L108.85 502.3 L110.4 502.3 L110.4 505.4 L111.43 505.4 L111.43 507.93 L112.47 507.93 L112.47 510.47 L113.5 510.47 L113.5 513 L114.08 513 L114.08 515.5 L114.65 515.5 L114.65 518 L115.22 518 L115.22 520.5 L115.8 520.5 L115.8 523 L127.3 523 L127.3 525.4 L135 525.4 L135 528.5 L136.5 528.5 L136.5 531.5 L230.6 531.5" fill="none" stroke="#6CBA48" stroke-width="1.4" stroke-linejoin="miter"/>
<path d="M75.35 416.5h7.9M79.3 412.55v7.9M77.55 429h7.9M81.5 425.05v7.9M80.55 439.6h7.9M84.5 435.65v7.9M86.05 458h7.9M90 454.05v7.9M87.05 466h7.9M91 462.05v7.9M91.05 474h7.9M95 470.05v7.9M96.05 478h7.9M100 474.05v7.9M100.05 487h7.9M104 483.05v7.9M114.85 523h7.9M118.8 519.05v7.9M118.05 523h7.9M122 519.05v7.9M120.05 523h7.9M124 519.05v7.9M122.05 523h7.9M126 519.05v7.9M125.65 525.4h7.9M129.6 521.45v7.9M131.85 528.5h7.9M135.8 524.55v7.9M133.35 528.5h7.9M137.3 524.55v7.9M136.05 531.5h7.9M140 527.55v7.9M143.75 531.5h7.9M147.7 527.55v7.9M145.25 531.5h7.9M149.2 527.55v7.9M146.65 531.5h7.9M150.6 527.55v7.9M149.55 531.5h7.9M153.5 527.55v7.9M152.35 531.5h7.9M156.3 527.55v7.9M155.25 531.5h7.9M159.2 527.55v7.9M158.15 531.5h7.9M162.1 527.55v7.9M162.05 531.5h7.9M166 527.55v7.9M163.95 531.5h7.9M167.9 527.55v7.9M173.55 531.5h7.9M177.5 527.55v7.9M176.45 531.5h7.9M180.4 527.55v7.9M183.15 531.5h7.9M187.1 527.55v7.9M192.75 531.5h7.9M196.7 527.55v7.9M204.35 531.5h7.9M208.3 527.55v7.9M215.85 531.5h7.9M219.8 527.55v7.9M219.75 531.5h7.9M223.7 527.55v7.9M223.55 531.5h7.9M227.5 527.55v7.9" fill="none" stroke="#6CBA48" stroke-width="1.3"/>
<path d="M65.4 395.5 L68 395.5 L68 398 L69.43 398 L69.43 400.33 L70.87 400.33 L70.87 402.67 L72.3 402.67 L72.3 405 L72.67 405 L72.67 407.6 L73.05 407.6 L73.05 410.2 L73.42 410.2 L73.42 412.8 L73.8 412.8 L73.8 415.4 L74.3 415.4 L74.3 417.7 L74.8 417.7 L74.8 420 L75.3 420 L75.3 422.3 L75.8 422.3 L75.8 424.6 L76.3 424.6 L76.3 426.9 L76.82 426.9 L76.82 429.2 L77.34 429.2 L77.34 431.5 L77.86 431.5 L77.86 433.8 L78.38 433.8 L78.38 436.1 L78.9 436.1 L78.9 438.4 L79.77 438.4 L79.77 441.27 L80.63 441.27 L80.63 444.13 L81.5 444.13 L81.5 447 L82.67 447 L82.67 449.27 L83.83 449.27 L83.83 451.53 L85 451.53 L85 453.8 L85.58 453.8 L85.58 456.1 L86.15 456.1 L86.15 458.4 L86.72 458.4 L86.72 460.7 L87.3 460.7 L87.3 463 L88.63 463 L88.63 465.33 L89.97 465.33 L89.97 467.67 L91.3 467.67 L91.3 470 L92.27 470 L92.27 472.3 L93.23 472.3 L93.23 474.6 L94.2 474.6 L94.2 476.9 L100 476.9 L100 480 L104.6 480 L104.6 482.5 L110.4 482.5 L110.4 484.5 L116.5 484.5 L116.5 486.8 L124.2 486.8 L124.2 488.3 L133.5 488.3 L133.5 490.5 L134.65 490.5 L134.65 492.65 L135.8 492.65 L135.8 494.8 L139.6 494.8 L139.6 495.8 L152.5 495.8 L152.5 497.8 L153.25 497.8 L153.25 500.15 L154 500.15 L154 502.5 L235.4 502.5" fill="none" stroke="#5E4A9E" stroke-width="1.4" stroke-linejoin="miter"/>
<path d="M68.05 405h7.9M72 401.05v7.9M69.35 415h7.9M73.3 411.05v7.9M72.05 426.5h7.9M76 422.55v7.9M74.75 438h7.9M78.7 434.05v7.9M76.25 444h7.9M80.2 440.05v7.9M86.05 470h7.9M90 466.05v7.9M90.05 477h7.9M94 473.05v7.9M96.05 480h7.9M100 476.05v7.9M97.55 480.82h7.9M101.5 476.87v7.9M99.05 481.63h7.9M103 477.68v7.9M100.55 482.45h7.9M104.5 478.5v7.9M102.05 482.98h7.9M106 479.03v7.9M104.55 483.84h7.9M108.5 479.89v7.9M106.05 484.36h7.9M110 480.41v7.9M107.55 484.91h7.9M111.5 480.96v7.9M109.05 485.48h7.9M113 481.53v7.9M110.55 486.05h7.9M114.5 482.1v7.9M112.05 486.61h7.9M116 482.66v7.9M117.55 487.77h7.9M121.5 483.82v7.9M119.05 488.07h7.9M123 484.12v7.9M120.55 488.37h7.9M124.5 484.42v7.9M122.05 488.73h7.9M126 484.78v7.9M123.55 489.08h7.9M127.5 485.13v7.9M125.05 489.44h7.9M129 485.49v7.9M126.55 489.79h7.9M130.5 485.84v7.9M128.05 490.15h7.9M132 486.2v7.9M129.55 490.5h7.9M133.5 486.55v7.9M136.05 495.86h7.9M140 491.91v7.9M137.55 496.09h7.9M141.5 492.14v7.9M139.05 496.33h7.9M143 492.38v7.9M140.55 496.56h7.9M144.5 492.61v7.9M142.05 496.79h7.9M146 492.84v7.9M143.55 497.02h7.9M147.5 493.07v7.9M145.05 497.26h7.9M149 493.31v7.9M151.55 502.5h7.9M155.5 498.55v7.9M153 502.5h7.9M156.95 498.55v7.9M154.45 502.5h7.9M158.4 498.55v7.9M155.9 502.5h7.9M159.85 498.55v7.9M157.35 502.5h7.9M161.3 498.55v7.9M158.8 502.5h7.9M162.75 498.55v7.9M160.25 502.5h7.9M164.2 498.55v7.9M161.7 502.5h7.9M165.65 498.55v7.9M163.15 502.5h7.9M167.1 498.55v7.9M164.6 502.5h7.9M168.55 498.55v7.9M166.05 502.5h7.9M170 498.55v7.9M167.5 502.5h7.9M171.45 498.55v7.9M168.95 502.5h7.9M172.9 498.55v7.9M170.4 502.5h7.9M174.35 498.55v7.9M171.85 502.5h7.9M175.8 498.55v7.9M173.3 502.5h7.9M177.25 498.55v7.9M185.05 502.5h7.9M189 498.55v7.9M187.05 502.5h7.9M191 498.55v7.9M189.85 502.5h7.9M193.8 498.55v7.9M192.75 502.5h7.9M196.7 498.55v7.9M208.05 502.5h7.9M212 498.55v7.9M211.05 502.5h7.9M215 498.55v7.9M213.95 502.5h7.9M217.9 498.55v7.9M215.85 502.5h7.9M219.8 498.55v7.9M228.35 502.5h7.9M232.3 498.55v7.9" fill="none" stroke="#5E4A9E" stroke-width="1.3"/>
<path d="M65.4 395.5 L69 395.5 L69 398 L71.2 398 L71.2 401.5 L73.5 401.5 L73.5 403.8 L77 403.8 L77 405 L77.3 405 L77.3 407.3 L77.6 407.3 L77.6 409.6 L78.45 409.6 L78.45 412.2 L79.3 412.2 L79.3 414.8 L80.75 414.8 L80.75 417.4 L82.2 417.4 L82.2 420 L82.75 420 L82.75 422.3 L83.3 422.3 L83.3 424.6 L89.7 424.6 L89.7 425.8 L90 425.8 L90 428.1 L90.3 428.1 L90.3 430.4 L90.85 430.4 L90.85 432.4 L91.4 432.4 L91.4 434.4 L95.4 434.4 L95.4 435.6 L95.7 435.6 L95.7 437.98 L96 437.98 L96 440.35 L96.3 440.35 L96.3 442.73 L96.6 442.73 L96.6 445.1 L114.4 445.1 L114.4 450.6 L115.5 450.6 L115.5 456.2 L143.5 456.2 L143.5 468.6 L180.8 468.6 L180.8 502.5 L187.5 502.5" fill="none" stroke="#446EB4" stroke-width="1.4" stroke-linejoin="miter"/>
<path d="M74.15 410.2h7.9M78.1 406.25v7.9M82.85 423.4h7.9M86.8 419.45v7.9M87.45 433.8h7.9M91.4 429.85v7.9M92.65 443.6h7.9M96.6 439.65v7.9M107.05 445.1h7.9M111 441.15v7.9M108.55 445.1h7.9M112.5 441.15v7.9M117.55 456.2h7.9M121.5 452.25v7.9M119.05 456.2h7.9M123 452.25v7.9M120.55 456.2h7.9M124.5 452.25v7.9M122.05 456.2h7.9M126 452.25v7.9M123.55 456.2h7.9M127.5 452.25v7.9M127.85 456.2h7.9M131.8 452.25v7.9M129.6 456.2h7.9M133.55 452.25v7.9M131.35 456.2h7.9M135.3 452.25v7.9M133.1 456.2h7.9M137.05 452.25v7.9M134.85 456.2h7.9M138.8 452.25v7.9M139.35 456.2h7.9M143.3 452.25v7.9M150.85 468.6h7.9M154.8 464.65v7.9M152.85 468.6h7.9M156.8 464.65v7.9M158.95 468.6h7.9M162.9 464.65v7.9M163.85 468.6h7.9M167.8 464.65v7.9M173.95 468.6h7.9M177.9 464.65v7.9M175.35 468.6h7.9M179.3 464.65v7.9M177.05 502.5h7.9M181 498.55v7.9M178.55 502.5h7.9M182.5 498.55v7.9M180.05 502.5h7.9M184 498.55v7.9M181.55 502.5h7.9M185.5 498.55v7.9M183.05 502.5h7.9M187 498.55v7.9" fill="none" stroke="#446EB4" stroke-width="1.3"/>
<path d="M345.3 395.5 L358.7 395.5 L358.7 430.3 L444.6 430.3" fill="none" stroke="#E8A02E" stroke-width="1.4" stroke-linejoin="miter"/>
<path d="M400.45 430.3h7.9M404.4 426.35v7.9M402.35 430.3h7.9M406.3 426.35v7.9M426.65 430.3h7.9M430.6 426.35v7.9M428.05 430.3h7.9M432 426.35v7.9M437.45 430.3h7.9M441.4 426.35v7.9" fill="none" stroke="#E8A02E" stroke-width="1.3"/>
<path d="M345.3 395.5 L350.7 395.5 L350.7 398.7 L351.2 398.7 L351.2 400.4 L359.9 400.4 L362.2 400.4 L362.2 402.7 L362.75 402.7 L362.75 405.6 L363.3 405.6 L363.3 408.5 L363.9 408.5 L363.9 411.17 L364.5 411.17 L364.5 413.83 L365.1 413.83 L365.1 416.5 L365.67 416.5 L365.67 418.83 L366.23 418.83 L366.23 421.17 L366.8 421.17 L366.8 423.5 L367.65 423.5 L367.65 426.35 L368.5 426.35 L368.5 429.2 L372 429.2 L372 430.4 L374.3 430.4 L374.3 433.8 L375.15 433.8 L375.15 436.1 L376 436.1 L376 438.4 L376.6 438.4 L376.6 441.3 L377.2 441.3 L377.2 444.2 L378.05 444.2 L378.05 447.1 L378.9 447.1 L378.9 450 L381 450 L381 453.5 L382.5 453.5 L382.5 456.3 L384 456.3 L384 459.1 L385.5 459.1 L385.5 461.9 L386.5 461.9 L386.5 464.47 L387.5 464.47 L387.5 467.03 L388.5 467.03 L388.5 469.6 L389.5 469.6 L389.5 472.17 L390.5 472.17 L390.5 474.73 L391.5 474.73 L391.5 477.3 L392.33 477.3 L392.33 479.87 L393.17 479.87 L393.17 482.43 L394 482.43 L394 485 L395.25 485 L395.25 487 L396.5 487 L396.5 489 L398.8 489 L398.8 491 L399.48 491 L399.48 493.25 L400.15 493.25 L400.15 495.5 L400.82 495.5 L400.82 497.75 L401.5 497.75 L401.5 500 L402.8 500 L402.8 501.5 L404 501.5 L404 504.5 L405.2 504.5 L405.2 507.5 L409.5 507.5 L409.5 509.5 L413.8 509.5 L413.8 511.5 L418.5 511.5 L418.5 515 L421.5 515 L421.5 517.5 L421.88 517.5 L421.88 520.27 L422.25 520.27 L422.25 523.05 L422.62 523.05 L422.62 525.83 L423 525.83 L423 528.6 L512 528.6" fill="none" stroke="#6CBA48" stroke-width="1.4" stroke-linejoin="miter"/>
<path d="M393.55 491.5h7.9M397.5 487.55v7.9M397.05 502h7.9M401 498.05v7.9M400.05 507h7.9M404 503.05v7.9M402.05 507h7.9M406 503.05v7.9M410.05 512h7.9M414 508.05v7.9M414.05 514.5h7.9M418 510.55v7.9M417.55 517h7.9M421.5 513.05v7.9M424.05 528.6h7.9M428 524.65v7.9M425.55 528.6h7.9M429.5 524.65v7.9M427.05 528.6h7.9M431 524.65v7.9M430.65 528.6h7.9M434.6 524.65v7.9M434.05 528.6h7.9M438 524.65v7.9M437.55 528.6h7.9M441.5 524.65v7.9M443.35 528.6h7.9M447.3 524.65v7.9M454.05 528.6h7.9M458 524.65v7.9M456.05 528.6h7.9M460 524.65v7.9M458.55 528.6h7.9M462.5 524.65v7.9M461.05 528.6h7.9M465 524.65v7.9M463.05 528.6h7.9M467 524.65v7.9M472.25 528.6h7.9M476.2 524.65v7.9M488.35 528.6h7.9M492.3 524.65v7.9M495.25 528.6h7.9M499.2 524.65v7.9M498.75 528.6h7.9M502.7 524.65v7.9M503.35 528.6h7.9M507.3 524.65v7.9" fill="none" stroke="#6CBA48" stroke-width="1.3"/>
<path d="M345.3 395.5 L350.7 395.5 L350.7 398.7 L353.5 398.7 L353.5 401.5 L354.07 401.5 L354.07 403.82 L354.65 403.82 L354.65 406.15 L355.23 406.15 L355.23 408.48 L355.8 408.48 L355.8 410.8 L357.55 410.8 L357.55 413.65 L359.3 413.65 L359.3 416.5 L360.47 416.5 L360.47 418.83 L361.63 418.83 L361.63 421.17 L362.8 421.17 L362.8 423.5 L363.57 423.5 L363.57 425.8 L364.33 425.8 L364.33 428.1 L365.1 428.1 L365.1 430.4 L365.95 430.4 L365.95 433.25 L366.8 433.25 L366.8 436.1 L369.1 436.1 L369.1 439.6 L369.87 439.6 L369.87 441.9 L370.63 441.9 L370.63 444.2 L371.4 444.2 L371.4 446.5 L372.4 446.5 L372.4 449.25 L373.4 449.25 L373.4 452 L375.95 452 L375.95 455.05 L378.5 455.05 L378.5 458.1 L380.4 458.1 L380.4 460 L382.3 460 L382.3 461.9 L384.4 461.9 L384.4 464.5 L391.5 464.5 L391.5 467.5 L391.75 467.5 L391.75 469.75 L392 469.75 L392 472 L401 472 L401 475.5 L401.7 475.5 L401.7 478.5 L416 478.5 L416 481.5 L417 481.5 L417 483 L434 483 L434 485.5 L436 485.5 L436 487.5 L456.5 487.5 L456.5 490.3 L457.5 490.3 L457.5 494 L515.4 494" fill="none" stroke="#5E4A9E" stroke-width="1.4" stroke-linejoin="miter"/>
<path d="M352.45 414.8h7.9M356.4 410.85v7.9M369.75 453.3h7.9M373.7 449.35v7.9M380.55 464.54h7.9M384.5 460.59v7.9M382.15 465.22h7.9M386.1 461.27v7.9M383.75 465.89h7.9M387.7 461.94v7.9M385.35 466.57h7.9M389.3 462.62v7.9M386.95 467.25h7.9M390.9 463.3v7.9M388.55 472.19h7.9M392.5 468.24v7.9M390.15 472.82h7.9M394.1 468.87v7.9M391.75 473.44h7.9M395.7 469.49v7.9M393.35 474.06h7.9M397.3 470.11v7.9M394.95 474.68h7.9M398.9 470.73v7.9M396.55 475.31h7.9M400.5 471.36v7.9M398.25 478.6h7.9M402.2 474.65v7.9M399.85 478.94h7.9M403.8 474.99v7.9M401.45 479.28h7.9M405.4 475.33v7.9M403.05 479.61h7.9M407 475.66v7.9M404.65 479.95h7.9M408.6 476v7.9M406.25 480.28h7.9M410.2 476.33v7.9M407.85 480.62h7.9M411.8 476.67v7.9M409.45 480.95h7.9M413.4 477v7.9M411.05 481.29h7.9M415 477.34v7.9M413.55 483.07h7.9M417.5 479.12v7.9M415.15 483.31h7.9M419.1 479.36v7.9M416.75 483.54h7.9M420.7 479.59v7.9M418.35 483.78h7.9M422.3 479.83v7.9M419.95 484.01h7.9M423.9 480.06v7.9M421.55 484.25h7.9M425.5 480.3v7.9M423.15 484.49h7.9M427.1 480.54v7.9M424.75 484.72h7.9M428.7 480.77v7.9M426.35 484.96h7.9M430.3 481.01v7.9M427.95 485.19h7.9M431.9 481.24v7.9M429.55 485.43h7.9M433.5 481.48v7.9M432.55 487.57h7.9M436.5 483.62v7.9M434.15 487.79h7.9M438.1 483.84v7.9M435.75 488.01h7.9M439.7 484.06v7.9M437.35 488.22h7.9M441.3 484.27v7.9M438.95 488.44h7.9M442.9 484.49v7.9M440.55 488.66h7.9M444.5 484.71v7.9M442.15 488.88h7.9M446.1 484.93v7.9M443.75 489.1h7.9M447.7 485.15v7.9M445.35 489.32h7.9M449.3 485.37v7.9M446.95 489.54h7.9M450.9 485.59v7.9M448.55 489.75h7.9M452.5 485.8v7.9M450.15 489.97h7.9M454.1 486.02v7.9M451.75 490.19h7.9M455.7 486.24v7.9M454.55 494h7.9M458.5 490.05v7.9M456.05 494h7.9M460 490.05v7.9M457.55 494h7.9M461.5 490.05v7.9M459.05 494h7.9M463 490.05v7.9M460.55 494h7.9M464.5 490.05v7.9M462.05 494h7.9M466 490.05v7.9M463.55 494h7.9M467.5 490.05v7.9M465.05 494h7.9M469 490.05v7.9M469.55 494h7.9M473.5 490.05v7.9M488.35 494h7.9M492.3 490.05v7.9M491.55 494h7.9M495.5 490.05v7.9M495.25 494h7.9M499.2 490.05v7.9M509.05 494h7.9M513 490.05v7.9" fill="none" stroke="#5E4A9E" stroke-width="1.3"/>
<path d="M345.3 395.5 L350.4 395.5 L350.4 400.2 L359.6 400.2 L359.6 414.2 L365.9 414.2 L365.9 417.7 L369.1 417.7 L369.1 420 L369.7 420 L369.7 423.8 L373.4 423.8 L373.4 428 L376 428 L376 430 L376.6 430 L376.6 433.8 L377.8 433.8 L377.8 437.9 L394.8 437.9 L394.8 440 L396.7 440 L396.7 442.7 L399.6 442.7 L399.6 445 L401.5 445 L401.5 447.5 L404.4 447.5 L404.4 453.2 L425.4 453.2 L425.4 463.1 L509.6 463.1" fill="none" stroke="#446EB4" stroke-width="1.4" stroke-linejoin="miter"/>
<path d="M376.05 433.8h7.9M380 429.85v7.9M377.05 437.9h7.9M381 433.95v7.9M387.05 437.9h7.9M391 433.95v7.9M388.95 437.9h7.9M392.9 433.95v7.9M391.55 440h7.9M395.5 436.05v7.9M401.55 453.2h7.9M405.5 449.25v7.9M403.35 453.2h7.9M407.3 449.25v7.9M408.05 453.2h7.9M412 449.25v7.9M410.05 453.2h7.9M414 449.25v7.9M412.55 453.2h7.9M416.5 449.25v7.9M414.55 453.2h7.9M418.5 449.25v7.9M418.55 453.2h7.9M422.5 449.25v7.9M429.05 463.1h7.9M433 459.15v7.9M431.05 463.1h7.9M435 459.15v7.9M433.55 463.1h7.9M437.5 459.15v7.9M438.75 463.1h7.9M442.7 459.15v7.9M444.55 463.1h7.9M448.5 459.15v7.9M454.05 463.1h7.9M458 459.15v7.9M456.55 463.1h7.9M460.5 459.15v7.9M459.05 463.1h7.9M463 459.15v7.9M463.05 463.1h7.9M467 459.15v7.9M474.55 463.1h7.9M478.5 459.15v7.9M502.25 463.1h7.9M506.2 459.15v7.9" fill="none" stroke="#446EB4" stroke-width="1.3"/>
</svg>
</body></html>
